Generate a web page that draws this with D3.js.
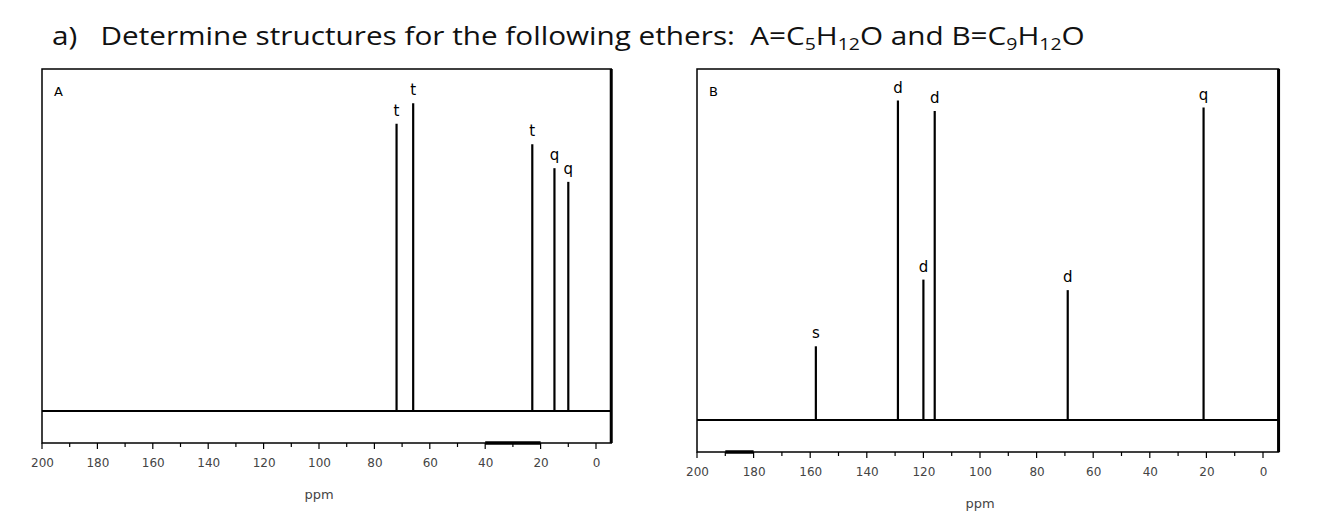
<!DOCTYPE html>
<html><head><meta charset="utf-8">
<script src="https://cdn.jsdelivr.net/npm/d3@7"></script>
<style>body{margin:0;background:#fff}</style>
</head><body>
<svg id="c" width="1326" height="514"></svg>
<script>
// spectrum A: shift (ppm), relative height, multiplicity
var shiftsA = [72, 66, 23, 15, 10],
    heightsA = [0.84, 0.90, 0.78, 0.71, 0.67],
    multA = ['t', 't', 't', 'q', 'q'];
var shiftsB = [158, 129, 120, 116, 69, 21],
    heightsB = [0.21, 0.91, 0.40, 0.88, 0.37, 0.89],
    multB = ['s', 'd', 'd', 'd', 'd', 'q'];
var tickLabels = [200, 180, 160, 140, 120, 100, 80, 60, 40, 20, 0];

var svg = d3.select('#c');

// title with subscripts, stretched to the reference width
var tg = svg.append('g');
var title = tg.append('text').attr('x', 0).attr('y', 0)
  .style('white-space', 'pre')
  .style('font-family', 'Open Sans, sans-serif').style('font-size', '26px').attr('fill', '#111');
title.append('tspan').text('a)   Determine structures for the following ethers:  A=C');
title.append('tspan').text('5').attr('dy', 5).style('font-size', '17px');
title.append('tspan').text('H').attr('dy', -5);
title.append('tspan').text('12').attr('dy', 5).style('font-size', '17px');
title.append('tspan').text('O and B=C').attr('dy', -5);
title.append('tspan').text('9').attr('dy', 5).style('font-size', '17px');
title.append('tspan').text('H').attr('dy', -5);
title.append('tspan').text('12').attr('dy', 5).style('font-size', '17px');
title.append('tspan').text('O').attr('dy', -5);
var tw = title.node().getBBox().width;
tg.attr('transform', 'translate(52,45) scale(' + (1033 / tw) + ',1)');

function panel(o) {
  var g = svg.append('g');
  var x = d3.scaleLinear().domain([200, 0]).range([o.x0, o.x1]);
  var y = d3.scaleLinear().domain([0, 1]).range([o.base, o.top]);
  var right = x(-5.5);
  // frame
  g.append('rect').attr('x', o.x0).attr('y', o.top).attr('width', right - o.x0).attr('height', o.bottom - o.top)
    .attr('fill', 'none').attr('stroke', '#000').attr('stroke-width', 1.5);
  g.append('line').attr('x1', right).attr('x2', right).attr('y1', o.top).attr('y2', o.bottom)
    .attr('stroke', '#000').attr('stroke-width', 3);
  // baseline
  g.append('line').attr('x1', o.x0).attr('x2', right).attr('y1', o.base).attr('y2', o.base)
    .attr('stroke', '#000').attr('stroke-width', 2);
  // thick mark on lower edge
  g.append('line').attr('x1', x(o.mark[0])).attr('x2', x(o.mark[1])).attr('y1', o.bottom).attr('y2', o.bottom)
    .attr('stroke', '#000').attr('stroke-width', 3.5);
  // axis
  var ax = d3.axisBottom(x).tickValues(tickLabels).tickSize(0).tickPadding(15);
  var axg = g.append('g').attr('transform', 'translate(0,' + o.bottom + ')').call(ax);
  axg.select('.domain').remove();
  axg.selectAll('text').style('font-family', 'DejaVu Sans, sans-serif').style('font-size', '12px').attr('fill', '#444');
  g.selectAll('.mt').data(d3.range(0, 201, 10)).enter().append('line')
    .attr('x1', x).attr('x2', x).attr('y1', o.bottom).attr('y2', function(d) { return o.bottom + (d % 20 ? 4 : 6); })
    .attr('stroke', '#000').attr('stroke-width', 1.2);
  g.append('text').attr('x', (x(200) + x(0)) / 2).attr('y', o.bottom + 56).attr('text-anchor', 'middle')
    .style('font-family', 'DejaVu Sans, sans-serif').style('font-size', '13px').attr('fill', '#444').text('ppm');
  g.append('text').attr('x', o.x0 + 12).attr('y', o.top + 27)
    .style('font-family', 'DejaVu Sans, sans-serif').style('font-size', '13px').text(o.name);
  // peaks
  g.selectAll('.pk').data(o.shifts).enter().append('line')
    .attr('x1', x).attr('x2', x).attr('y1', o.base).attr('y2', function(d, i) { return y(o.heights[i]); })
    .attr('stroke', '#000').attr('stroke-width', 2.2);
  g.selectAll('.lb').data(o.shifts).enter().append('text')
    .attr('x', x).attr('y', function(d, i) { return y(o.heights[i]) - 8; })
    .attr('text-anchor', 'middle')
    .style('font-family', 'DejaVu Sans, sans-serif').style('font-size', '15px')
    .text(function(d, i) { return o.mult[i]; });
}

panel({name: 'A', x0: 42, x1: 596, top: 69, base: 411, bottom: 443, mark: [40, 20],
  shifts: shiftsA, heights: heightsA, mult: multA});
panel({name: 'B', x0: 697, x1: 1263, top: 69, base: 420, bottom: 452, mark: [190, 180],
  shifts: shiftsB, heights: heightsB, mult: multB});
</script>
</body></html>
